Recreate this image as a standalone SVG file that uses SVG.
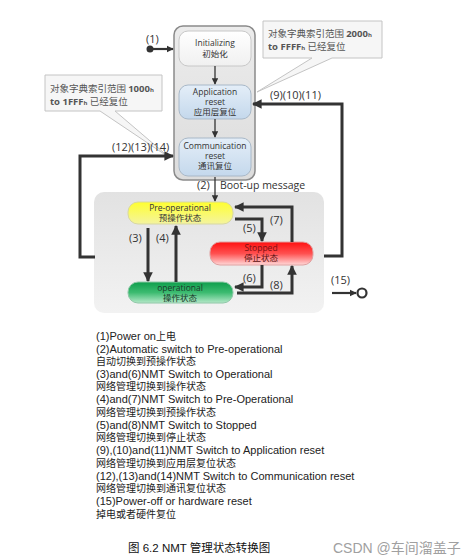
<svg xmlns="http://www.w3.org/2000/svg" width="474" height="560" viewBox="0 0 474 560">
<defs>
<linearGradient id="gInit" x1="0" y1="0" x2="0" y2="1"><stop offset="0" stop-color="#ffffff"/><stop offset="1" stop-color="#f0f0f0"/></linearGradient>
<linearGradient id="gBlue" x1="0" y1="0" x2="0" y2="1"><stop offset="0" stop-color="#e4eef8"/><stop offset="1" stop-color="#c4d8ec"/></linearGradient>
<linearGradient id="gOuter" x1="0" y1="0" x2="0" y2="1"><stop offset="0" stop-color="#ececec"/><stop offset="1" stop-color="#dcdcdc"/></linearGradient>
<linearGradient id="gGray" x1="0" y1="0" x2="0" y2="1"><stop offset="0" stop-color="#e2e2e2"/><stop offset="1" stop-color="#f2f2f2"/></linearGradient>
<linearGradient id="gYellow" x1="0" y1="0" x2="0" y2="1"><stop offset="0" stop-color="#ffff30"/><stop offset="1" stop-color="#f4f4a0"/></linearGradient>
<linearGradient id="gRed" x1="0" y1="0" x2="0" y2="1"><stop offset="0" stop-color="#ff1010"/><stop offset="0.5" stop-color="#ff5050"/><stop offset="1" stop-color="#ffd8d8"/></linearGradient>
<linearGradient id="gGreen" x1="0" y1="0" x2="0" y2="1"><stop offset="0" stop-color="#0e9e4c"/><stop offset="0.5" stop-color="#3cbb70"/><stop offset="1" stop-color="#b4e8c8"/></linearGradient>
<marker id="ah" viewBox="0 0 10 10" refX="9" refY="5" markerWidth="3.2" markerHeight="3.2" orient="auto" markerUnits="strokeWidth"><path d="M0,0 L10,5 L0,10 z" fill="#333"/></marker>
<marker id="ahs" viewBox="0 0 10 10" refX="9" refY="5" markerWidth="5" markerHeight="5" orient="auto" markerUnits="strokeWidth"><path d="M0,0 L10,5 L0,10 z" fill="#333"/></marker>
</defs>
<style>
text{font-family:"Open Sans","Noto Sans","Noto Sans CJK SC",sans-serif;fill:#333}
.bt{font-size:8.5px;text-anchor:middle}
.lb{font-size:11px}
.call{font-size:9.5px;font-family:"Noto Sans CJK SC","Liberation Serif",serif;fill:#555}
.desc{font-size:11px;fill:#222;font-family:"Liberation Sans","Noto Sans CJK SC",sans-serif}
.cj{font-size:10px;fill:#222;font-family:"Liberation Sans","Noto Sans CJK SC",sans-serif}
.conn path,.conn line{fill:none;stroke:#333;stroke-width:3}
.thin{stroke-width:1.3 !important}
</style>

<rect x="0" y="0" width="474" height="560" fill="#ffffff"/>

<g id="reset-group">
<rect x="174" y="26" width="81" height="154" rx="9" fill="url(#gOuter)" stroke="#8a8a8a" stroke-width="1.5"/>
</g>
<g id="initializing">
<rect x="179" y="31" width="72" height="35" rx="9" fill="url(#gInit)" stroke="#c8c8c8"/>
<text class="bt" x="215" y="46">Initializing</text>
<text class="bt" x="215" y="57">初始化</text>
</g>
<g id="app-reset">
<rect x="179" y="85" width="72" height="34" rx="9" fill="url(#gBlue)" stroke="#a8b8c8"/>
<text class="bt" x="215" y="95">Application</text>
<text class="bt" x="215" y="105">reset</text>
<text class="bt" x="215" y="115">应用层复位</text>
</g>
<g id="comm-reset">
<rect x="179" y="138" width="72" height="38" rx="9" fill="url(#gBlue)" stroke="#a8b8c8"/>
<text class="bt" x="215" y="149">Communication</text>
<text class="bt" x="215" y="159">reset</text>
<text class="bt" x="215" y="169">通讯复位</text>
</g>

<g id="nmt-group">
<rect x="94" y="192" width="230" height="121" rx="10" fill="url(#gGray)"/>
</g>
<g id="pre-operational">
<rect x="128" y="202" width="105" height="22" rx="10" fill="url(#gYellow)" stroke="#d8d8a0"/>
<text class="bt" x="180" y="211" fill="#4a4a1a">Pre-operational</text>
<text class="bt" x="180" y="221">预操作状态</text>
</g>
<g id="stopped">
<rect x="210" y="242" width="103" height="23" rx="10" fill="url(#gRed)" stroke="#e0a0a0"/>
<text class="bt" x="261" y="251" style="fill:#7a1010">Stopped</text>
<text class="bt" x="261" y="261" style="fill:#5a1010">停止状态</text>
</g>
<g id="operational">
<rect x="128" y="282" width="105" height="21" rx="10" fill="url(#gGreen)" stroke="#90c8a8"/>
<text class="bt" x="180" y="291" style="fill:#1a3a2a">operational</text>
<text class="bt" x="180" y="301" style="fill:#1a3a2a">操作状态</text>
</g>

<g id="callout-left">
<path d="M45,75 H162 V111 H115 L170,158 L100,111 H45 Z" fill="#f6f6f6" stroke="#c4c4c4"/>
<text class="call" x="50" y="92">对象字典索引范围 <tspan font-weight="bold" font-family="Open Sans,sans-serif">1000<tspan font-size="6">h</tspan></tspan></text>
<text class="call" x="50" y="105"><tspan font-weight="bold" font-family="Open Sans,sans-serif">to 1FFF<tspan font-size="6">h</tspan></tspan> 已经复位</text>
</g>
<g id="callout-right">
<path d="M263,21 H382 V58 H332 L257,92 L312,58 H263 Z" fill="#f6f6f6" stroke="#c4c4c4"/>
<text class="call" x="268" y="37">对象字典索引范围 <tspan font-weight="bold" font-family="Open Sans,sans-serif">2000<tspan font-size="6">h</tspan></tspan></text>
<text class="call" x="268" y="50"><tspan font-weight="bold" font-family="Open Sans,sans-serif">to FFFF<tspan font-size="6">h</tspan></tspan> 已经复位</text>
</g>

<g id="connectors" class="conn">
<circle cx="150" cy="49" r="3.5" fill="#333"/>
<line x1="150" y1="49" x2="173" y2="49" style="stroke-width:2.2" marker-end="url(#ah)"/>
<line class="thin" x1="215" y1="66" x2="215" y2="84" marker-end="url(#ahs)"/>
<line class="thin" x1="215" y1="119" x2="215" y2="137" marker-end="url(#ahs)"/>
<line class="thin" x1="215" y1="177" x2="215" y2="201" marker-end="url(#ahs)"/>
<path d="M324,256 H342 V104 H253" marker-end="url(#ah)"/>
<path d="M95,257 H80 V156 H173" marker-end="url(#ah)"/>
<line x1="148" y1="228" x2="148" y2="281" marker-end="url(#ah)"/>
<line x1="176" y1="282" x2="176" y2="226" marker-end="url(#ah)"/>
<path d="M235,219 H262 V241" marker-end="url(#ah)"/>
<path d="M292,242 V207 H235" marker-end="url(#ah)"/>
<path d="M262,265 V287 H235" marker-end="url(#ah)"/>
<path d="M237,293 H292 V266" marker-end="url(#ah)"/>
<line x1="332" y1="293" x2="356" y2="293" style="stroke-width:2.2" marker-end="url(#ah)"/>
<circle cx="362" cy="293" r="4.5" fill="#fff" stroke="#333" stroke-width="2.2"/>
</g>

<g id="labels">
<text class="lb" x="146" y="43">(1)</text>
<text class="lb" x="197" y="189">(2)</text>
<text x="220" y="189" style="font-size:10.5px">Boot-up message</text>
<text class="lb" x="270" y="99">(9)(10)(11)</text>
<text class="lb" x="112" y="151">(12)(13)(14)</text>
<text class="lb" x="129" y="242">(3)</text>
<text class="lb" x="156" y="242">(4)</text>
<text class="lb" x="243" y="232">(5)</text>
<text class="lb" x="270" y="224">(7)</text>
<text class="lb" x="243" y="282">(6)</text>
<text class="lb" x="270" y="289">(8)</text>
<text class="lb" x="331" y="284">(15)</text>
</g>

<g id="legend">
<text class="desc" x="96" y="340">(1)Power on<tspan style="font-size:10px">上电</tspan></text>
<text class="desc" x="96" y="353">(2)Automatic switch to Pre-operational</text>
<text class="cj" x="96" y="365">自动切换到预操作状态</text>
<text class="desc" x="96" y="378">(3)and(6)NMT Switch to Operational</text>
<text class="cj" x="96" y="390">网络管理切换到操作状态</text>
<text class="desc" x="96" y="403">(4)and(7)NMT Switch to Pre-Operational</text>
<text class="cj" x="96" y="416">网络管理切换到预操作状态</text>
<text class="desc" x="96" y="429">(5)and(8)NMT Switch to Stopped</text>
<text class="cj" x="96" y="441">网络管理切换到停止状态</text>
<text class="desc" x="96" y="454">(9),(10)and(11)NMT Switch to Application reset</text>
<text class="cj" x="96" y="467">网络管理切换到应用层复位状态</text>
<text class="desc" x="96" y="480">(12),(13)and(14)NMT Switch to Communication reset</text>
<text class="cj" x="96" y="492">网络管理切换到通讯复位状态</text>
<text class="desc" x="96" y="505">(15)Power-off or hardware reset</text>
<text class="cj" x="96" y="518">掉电或者硬件复位</text>
</g>

<g id="caption">
<text x="128" y="552" style="font-size:11.5px;font-family:'Liberation Sans','Noto Sans CJK SC',sans-serif;fill:#111">图  6.2 NMT 管理状态转换图</text>
<text x="333" y="553" style="font-size:14px;font-family:'Liberation Sans','Noto Sans CJK SC',sans-serif;fill:#a0a0a0">CSDN @车间溜盖子</text>
</g>
</svg>
